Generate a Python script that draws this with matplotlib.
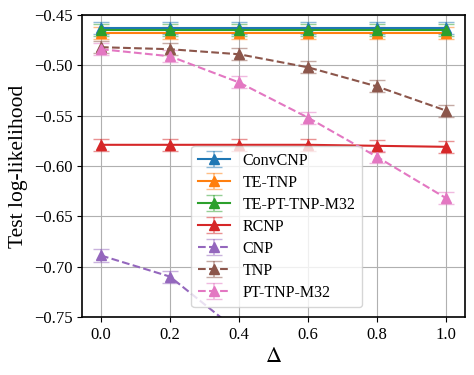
import matplotlib
matplotlib.use("Agg")
import matplotlib.pyplot as plt
import numpy as np

plt.rcParams['font.family'] = ['Liberation Serif', 'DejaVu Serif']
plt.rcParams['mathtext.fontset'] = 'stix'

delta = [0.0, 0.2, 0.4, 0.6, 0.8, 1.0]
labels = ["ConvCNP", "TE-TNP", "TE-PT-TNP-M32", "RCNP", "CNP", "TNP", "PT-TNP-M32"]
convcnp = [-0.463, -0.463, -0.463, -0.463, -0.463, -0.463]
te_tnp = [-0.468, -0.468, -0.468, -0.468, -0.468, -0.468]
te_pt_tnp = [-0.465, -0.465, -0.465, -0.465, -0.465, -0.465]
rcnp = [-0.579, -0.579, -0.579, -0.579, -0.580, -0.581]
cnp = [-0.689, -0.710, -0.765, -0.840, -0.920, -1.000]
tnp = [-0.482, -0.484, -0.489, -0.502, -0.521, -0.545]
pt_tnp = [-0.484, -0.491, -0.517, -0.552, -0.591, -0.632]
err = [0.006, 0.006, 0.006, 0.006, 0.006, 0.006]

series = [convcnp, te_tnp, te_pt_tnp, rcnp, cnp, tnp, pt_tnp]
colors = ["#1f77b4", "#ff7f0e", "#2ca02c", "#d62728", "#9467bd", "#8c564b", "#e377c2"]
styles = ["-", "-", "-", "-", "--", "--", "--"]

fig, ax = plt.subplots(figsize=(4.74, 3.75), dpi=100)
for vals, lab, c, ls in zip(series, labels, colors, styles):
    cont = ax.errorbar(delta, vals, yerr=err, color=c, linestyle=ls, marker='^',
                       markersize=6.5, linewidth=1.5, capsize=6, elinewidth=1.2, label=lab)
    for art in cont[1]:
        art.set_alpha(0.5)
    for art in cont[2]:
        art.set_alpha(0.5)

ax.set_xlim(-0.055, 1.055)
ax.set_ylim(-0.75, -0.45)
ax.set_xticks(delta)
ax.set_yticks([-0.75, -0.70, -0.65, -0.60, -0.55, -0.50, -0.45])
ax.tick_params(labelsize=12)
ax.grid(True, color='#b0b0b0', linewidth=0.8)
ax.set_xlabel(r'$\Delta$', fontsize=16)
ax.set_ylabel('Test log-likelihood', fontsize=15.5)
for s in ax.spines.values():
    s.set_linewidth(1.2)
ax.legend(loc='lower left', bbox_to_anchor=(0.265, 0.005), fontsize=11.5,
          handlelength=2.0, borderpad=0.4, labelspacing=0.38)
fig.subplots_adjust(left=0.173, right=0.981, top=0.96, bottom=0.155)
fig.savefig("out.png", dpi=100)
